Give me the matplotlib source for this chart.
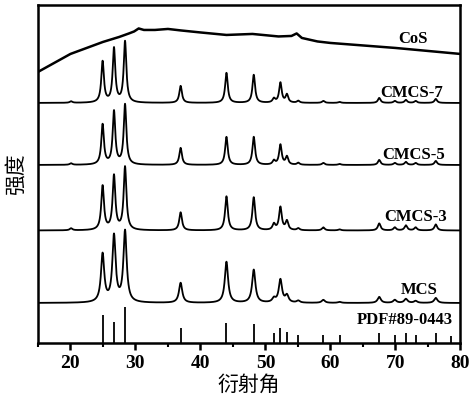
import numpy as np
import matplotlib
matplotlib.use("Agg")
import matplotlib.pyplot as plt
from matplotlib.ticker import MultipleLocator

# ---------------- data ----------------
peak_pos = [20.1, 24.95, 26.7, 28.4, 36.95, 44.0, 48.2, 51.3, 52.3, 53.3,
            55.05, 58.9, 61.4, 67.5, 69.9, 71.6, 73.1, 76.2, 78.6]

h_mcs = [0, 48, 66, 71, 20, 41, 33, 4, 23, 7, 2, 3, 1, 6, 3, 4, 2, 5, 0]
h_cmcs3 = [2, 44, 54, 63, 18, 34, 33, 6, 23, 9, 2, 3, 1, 7, 3, 5, 3, 6, 0]
h_cmcs5 = [1.5, 40, 53, 60, 17, 28, 28, 4, 20, 8, 2, 2, 1, 5, 2, 3, 2, 4, 0]
h_cmcs7 = [1.5, 41, 54, 61, 17, 30, 28, 4, 20, 8, 2, 2, 1, 5, 2, 3, 2, 4, 0]

pdf_pos = [24.95, 26.7, 28.4, 36.95, 44.0, 48.2, 51.3, 52.3, 53.3, 55.05,
           58.9, 61.4, 67.5, 69.9, 71.6, 73.1, 76.2, 78.6]
pdf_h = [27.5, 20.5, 35.5, 14.5, 19.5, 18.5, 9.5, 14.5, 10.5, 7.5,
         7.5, 7.5, 9.5, 7.5, 9.5, 7.5, 9.5, 6.5]

cos_x = [15, 17.5, 20, 22.5, 25, 27.5, 29, 29.8, 30.5, 31.3, 33, 35, 37, 40,
         44, 48, 52, 54, 54.8, 55.6, 58, 60, 65, 70, 75, 80]
cos_y = [270.5, 279.5, 288.5, 294.5, 300.5, 305.5, 309, 311, 314, 312.5,
         312.5, 313.5, 312, 310, 307.5, 308.5, 306, 306.5, 309, 304.5,
         301, 299.5, 297, 294.5, 291.5, 288.5]

labels = ["CoS", "CMCS-7", "CMCS-5", "CMCS-3", "MCS", "PDF#89-0443"]
x_ticks = [20, 30, 40, 50, 60, 70, 80]

# ---------------- layout / style ----------------
offsets = {"MCS": 39.5, "CMCS-3": 112, "CMCS-5": 177.5, "CMCS-7": 239.5}
fwhm = {"MCS": 0.6, "CMCS-3": 0.5, "CMCS-5": 0.48, "CMCS-7": 0.48}

def profile(x, pos, heights, w):
    y = np.zeros_like(x)
    g = (w / 2.0) ** 2
    for p, h in zip(pos, heights):
        y += h * g / ((x - p) ** 2 + g)
    return y

fig = plt.figure(figsize=(4.74, 3.99), dpi=100)
ax = fig.add_axes([0.080, 0.1416, 0.8915, 0.846])

x = np.linspace(15, 80, 4000)
series = [("CMCS-7", h_cmcs7), ("CMCS-5", h_cmcs5), ("CMCS-3", h_cmcs3), ("MCS", h_mcs)]
for name, hs in series:
    ax.plot(x, offsets[name] + profile(x, peak_pos, hs, fwhm[name]),
            color="black", lw=1.3)

ax.plot(cos_x, cos_y, color="black", lw=1.8)
ax.vlines(pdf_pos, 0, pdf_h, color="black", lw=1.3)

label_y = [303.5, 249.5, 187.5, 125.5, 52.5, 22.5]
label_x = [428, 443, 445, 447, 438, 453]
for t, ly, lxp in zip(labels, label_y, label_x):
    ax.text(15 + (lxp - 38) / 6.5, ly, t, ha="right", va="center",
            fontsize=12, fontweight="bold", family="Liberation Serif")

ax.set_xlim(15, 80)
ax.set_ylim(0, 337.5)
ax.set_xticks(x_ticks)
ax.xaxis.set_minor_locator(MultipleLocator(5))
ax.set_yticks([])
ax.tick_params(axis="x", which="major", direction="out", length=5, width=1.8, pad=4)
ax.tick_params(axis="x", which="minor", direction="out", length=3, width=1.5)
for lab in ax.get_xticklabels():
    lab.set_fontfamily("Liberation Serif")
    lab.set_fontweight("bold")
    lab.set_fontsize(14)
for sp in ax.spines.values():
    sp.set_linewidth(1.8)

ax.set_xlabel("衍射角", family=["Noto Sans CJK SC", "DejaVu Sans"], fontsize=15,
              labelpad=1)
ax.set_ylabel("强度", family=["Noto Sans CJK SC", "DejaVu Sans"], fontsize=15,
              labelpad=8)

fig.savefig("out.png", dpi=100)
